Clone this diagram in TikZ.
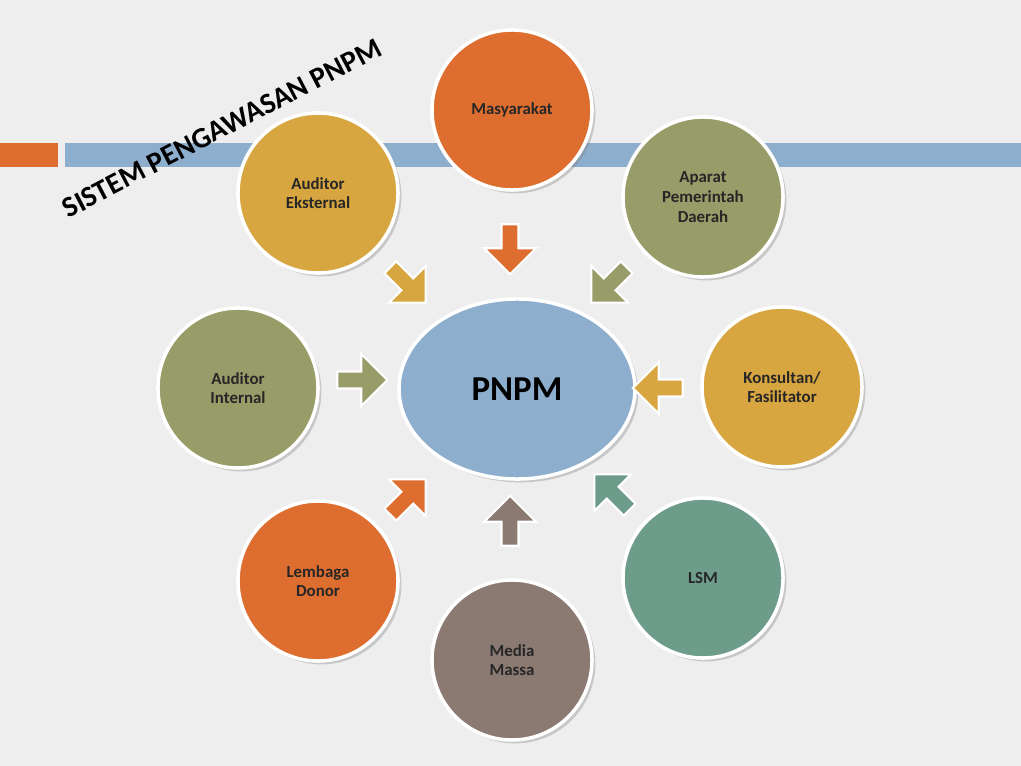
\documentclass[tikz,border=0pt]{standalone}
\usepackage{fontspec}
\setmainfont{Carlito}
\usetikzlibrary{shapes.arrows,shapes.geometric,shadows}
\definecolor{bgray}{RGB}{238,238,238}
\definecolor{orng}{RGB}{222,110,48}
\definecolor{olive}{RGB}{152,156,104}
\definecolor{gold}{RGB}{216,166,64}
\definecolor{barblue}{RGB}{142,174,206}
\definecolor{teal}{RGB}{110,156,138}
\definecolor{brgray}{RGB}{138,122,114}
\begin{document}
\begin{tikzpicture}[x=0.025cm,y=-0.025cm]
  \tikzstyle{disc}=[circle, draw=white, line width=2.5pt, minimum size=4cm,
    align=center, font=\bfseries\large, text=black!85, drop shadow={opacity=0.35}]
  \tikzstyle{block}=[single arrow, draw=white, line width=1.5pt, minimum height=1.25cm,
    minimum width=1.3cm, single arrow head extend=0.2cm, inner sep=2pt]
  \fill[bgray] (0,0) rectangle (1021,766);
  \fill[orng] (0,143) rectangle (58,167);
  \fill[barblue] (65,143) rectangle (1021,167);
  \node[rotate=27.5, font=\bfseries\huge, text=black] (title) at (222,128)
    {SISTEM PENGAWASAN PNPM};

  \node[disc, fill=orng] (masy) at (512,110) {Masyarakat};
  \node[disc, fill=olive] (apar) at (703,197) {Aparat\\Pemerintah\\Daerah};
  \node[disc, fill=gold] (aeks) at (318,193) {Auditor\\Eksternal};
  \node[disc, fill=olive] (aint) at (238,388) {Auditor\\Internal};
  \node[disc, fill=gold] (kons) at (782,387) {Konsultan/\\Fasilitator};
  \node[disc, fill=orng] (lemb) at (318,581) {Lembaga\\Donor};
  \node[disc, fill=brgray] (medi) at (512,660) {Media\\Massa};
  \node[disc, fill=teal] (lsm) at (703,578) {LSM};
  \node[ellipse, draw=white, line width=2.5pt, fill=barblue, minimum width=5.9cm,
    minimum height=4.5cm, font=\bfseries\Huge, drop shadow={opacity=0.35}] (pnpm) at (517,389) {PNPM};

  \node[block, fill=orng, rotate=-90] (a1) at (510,245) {};
  \node[block, fill=gold, rotate=-45] (a2) at (405,282) {};
  \node[block, fill=olive, rotate=-135] (a3) at (612,282) {};
  \node[block, fill=olive] (a4) at (358,380) {};
  \node[block, fill=gold, rotate=180] (a5) at (662,388) {};
  \node[block, fill=orng, rotate=45] (a6) at (405,500) {};
  \node[block, fill=brgray, rotate=90] (a7) at (510,525) {};
  \node[block, fill=teal, rotate=135] (a8) at (615,495) {};
\end{tikzpicture}
\end{document}
